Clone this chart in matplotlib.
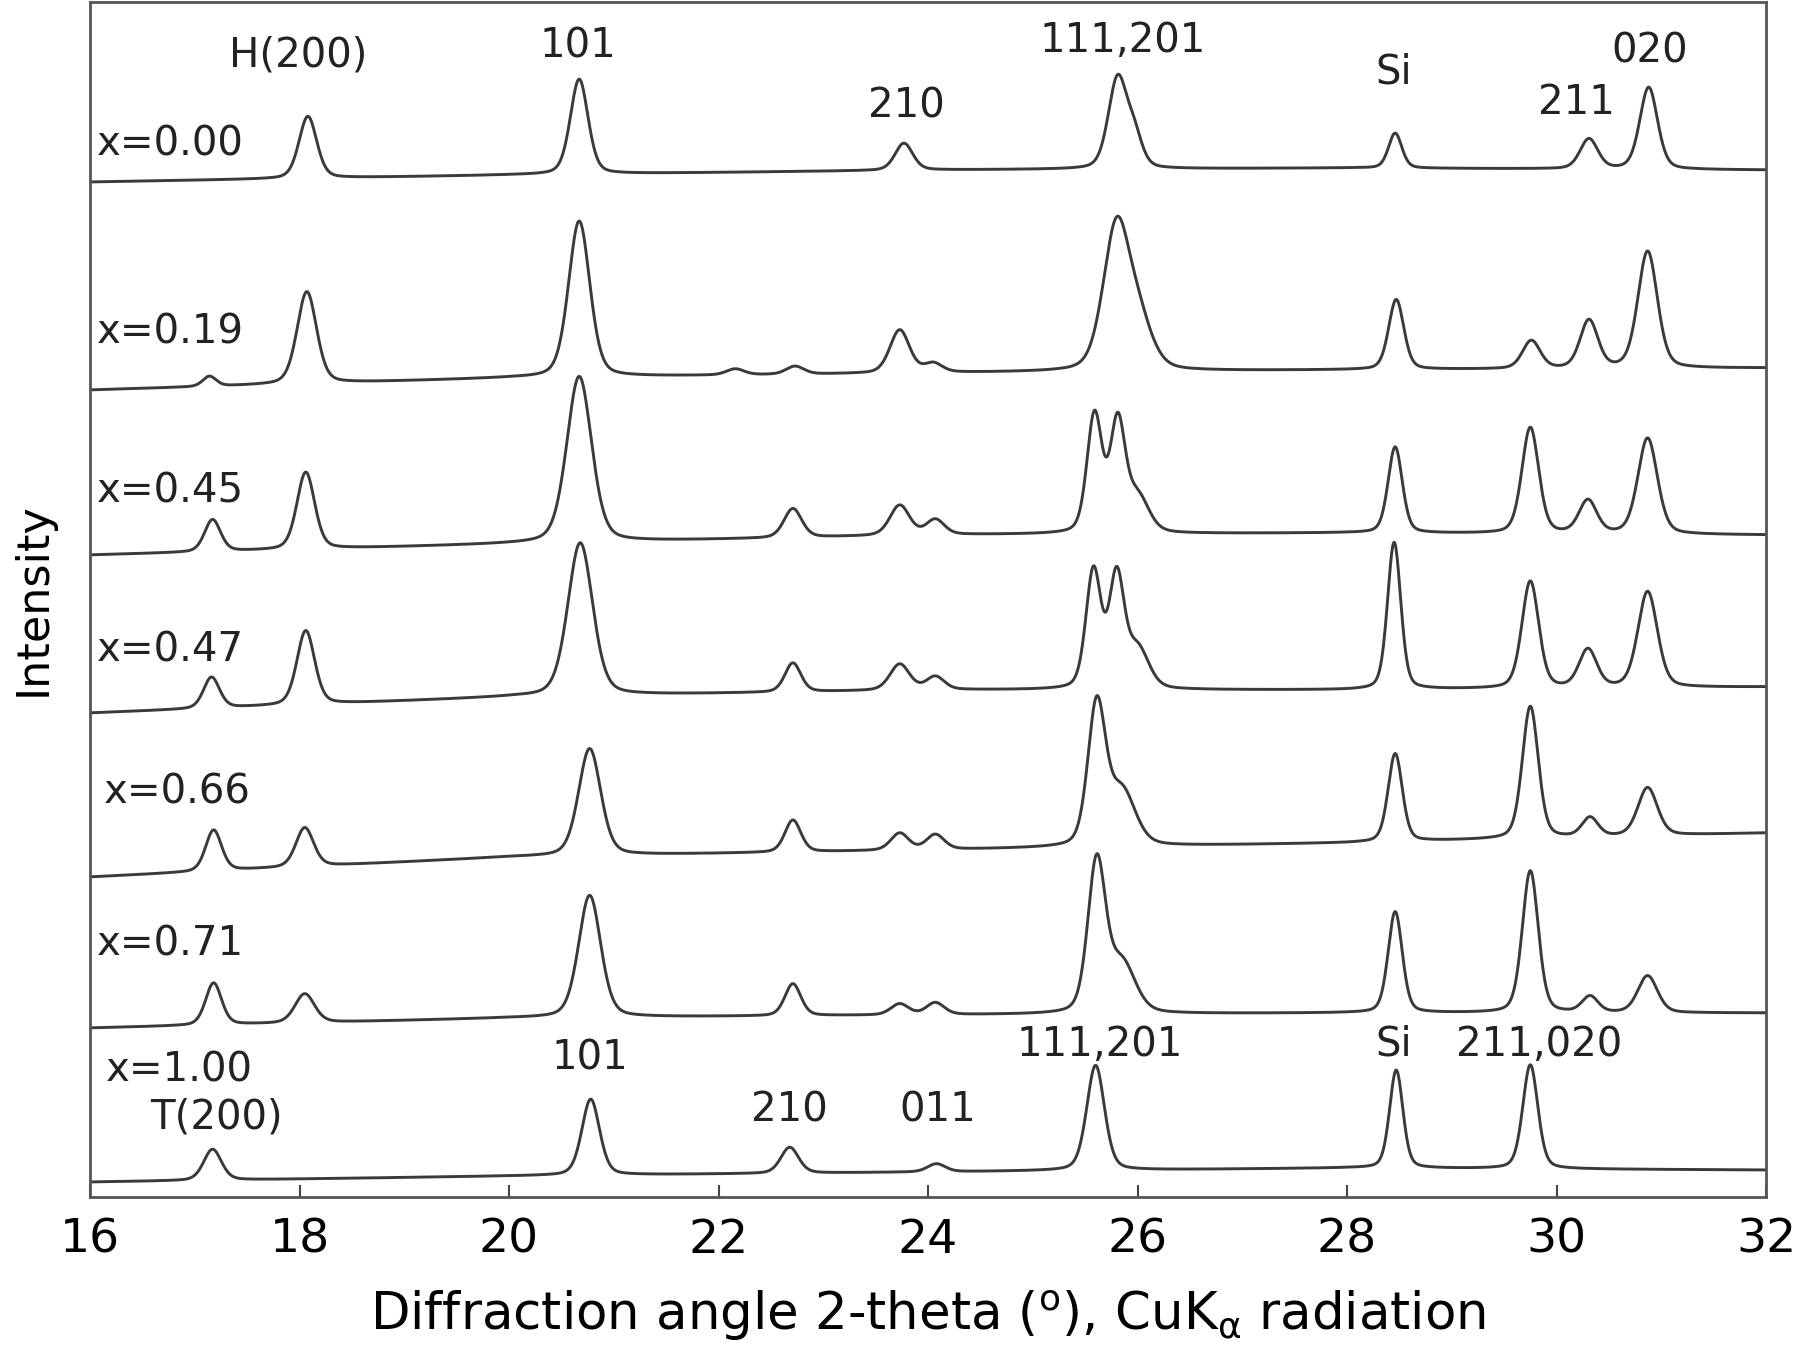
import numpy as np
import matplotlib
matplotlib.use("Agg")
import matplotlib.pyplot as plt

# XRD patterns, stacked. y units are arbitrary (offset stack).
two_theta_range = (16, 32)

sample_labels = ["x=0.00", "x=0.19", "x=0.45", "x=0.47", "x=0.66", "x=0.71", "x=1.00"]

# background read at 2-theta = 16, 20, 24, 28, 32
bg_angles = [16, 20, 24, 28, 32]
bg_000 = [1015, 1022, 1027, 1029, 1027]
bg_019 = [807, 819, 824, 827, 829]
bg_045 = [642, 653, 662, 664, 662]
bg_047 = [484, 500, 507, 507, 510]
bg_066 = [320, 340, 347, 354, 364]
bg_071 = [169, 179, 182, 184, 184]
bg_100 = [15, 21, 25, 29, 27]

# peaks: (2-theta, height above background, fwhm)
peaks_000 = [(18.08, 62, 0.20), (20.67, 95, 0.20), (23.77, 27, 0.20), (25.81, 90, 0.21),
             (25.97, 30, 0.18), (28.46, 35, 0.15), (30.31, 30, 0.20), (30.88, 82, 0.20)]
peaks_019 = [(17.14, 10, 0.15), (18.07, 92, 0.22), (20.67, 156, 0.24), (22.16, 6, 0.20),
             (22.73, 8, 0.20), (23.73, 43, 0.22), (24.05, 9, 0.20), (25.80, 144, 0.30),
             (26.02, 42, 0.30), (28.47, 70, 0.17), (29.76, 28, 0.20), (30.31, 48, 0.20),
             (30.87, 117, 0.22)]
peaks_045 = [(17.17, 32, 0.18), (18.06, 77, 0.20), (20.67, 166, 0.28), (22.71, 29, 0.20),
             (23.73, 30, 0.22), (24.07, 15, 0.20), (25.59, 118, 0.17), (25.81, 108, 0.17),
             (26.00, 36, 0.25), (28.46, 86, 0.16), (29.75, 106, 0.19), (30.30, 33, 0.20),
             (30.87, 96, 0.22)]
peaks_047 = [(17.16, 31, 0.18), (18.06, 74, 0.20), (20.68, 153, 0.28), (22.71, 29, 0.18),
             (23.73, 26, 0.22), (24.07, 13, 0.20), (25.58, 118, 0.17), (25.80, 110, 0.17),
             (26.00, 40, 0.25), (28.45, 147, 0.15), (29.75, 107, 0.19), (30.30, 38, 0.20),
             (30.87, 96, 0.22)]
peaks_066 = [(17.18, 41, 0.18), (18.05, 39, 0.20), (20.77, 107, 0.25), (22.71, 32, 0.18),
             (23.73, 17, 0.20), (24.07, 15, 0.20), (25.61, 140, 0.20), (25.85, 55, 0.30),
             (28.46, 88, 0.16), (29.75, 132, 0.18), (30.32, 19, 0.18), (30.87, 48, 0.22)]
peaks_071 = [(17.18, 42, 0.18), (18.05, 29, 0.22), (20.77, 122, 0.25), (22.71, 32, 0.18),
             (23.73, 11, 0.20), (24.07, 12, 0.20), (25.61, 150, 0.20), (25.85, 50, 0.30),
             (28.46, 101, 0.16), (29.75, 142, 0.18), (30.32, 16, 0.18), (30.87, 37, 0.22)]
peaks_100 = [(17.17, 31, 0.20), (20.78, 76, 0.20), (22.68, 26, 0.20), (24.08, 8, 0.20),
             (25.60, 105, 0.20), (28.47, 98, 0.15), (29.75, 104, 0.17)]

backgrounds = [bg_000, bg_019, bg_045, bg_047, bg_066, bg_071, bg_100]
peak_sets = [peaks_000, peaks_019, peaks_045, peaks_047, peaks_066, peaks_071, peaks_100]

# reflection labels: (text, 2-theta, y)
top_labels = [("H(200)", 17.99, 1142), ("101", 20.66, 1151), ("210", 23.79, 1091),
              ("111,201", 25.86, 1156), ("Si", 28.45, 1125), ("211", 30.19, 1094),
              ("020", 30.89, 1146)]
bottom_labels = [("T(200)", 17.21, 80), ("101", 20.77, 138), ("210", 22.68, 86),
                 ("011", 24.09, 86), ("111,201", 25.64, 152), ("Si", 28.45, 152),
                 ("211,020", 29.83, 152)]
sample_label_x = [16.07, 16.07, 16.07, 16.07, 16.13, 16.07, 16.15]
sample_label_y = [1053, 864, 706, 547, 405, 253, 127]


def pattern(tt, bg, peaks, eta=0.3):
    y = np.interp(tt, bg_angles, bg).astype(float)
    for c, h, w in peaks:
        d = (tt - c) / (w / 2)
        y += h * (eta / (1 + d ** 2) + (1 - eta) * np.exp(-np.log(2) * d ** 2))
    return y


plt.rcParams['mathtext.default'] = 'regular'
fig = plt.figure(figsize=(18, 13.58), dpi=100)
ax = fig.add_axes([90 / 1800, 1 - 1197 / 1358, 1676 / 1800, 1195 / 1358])

tt = np.linspace(two_theta_range[0], two_theta_range[1], 3201)
for bg, pk in zip(backgrounds, peak_sets):
    ax.plot(tt, pattern(tt, bg, pk), color='#3a3a3a', lw=2.1)

fs = 29
for txt, x, y in top_labels + bottom_labels:
    ax.text(x, y, txt, ha='center', va='center', fontsize=fs, color='#222222')
for txt, x, y in zip(sample_labels, sample_label_x, sample_label_y):
    ax.text(x, y, txt, ha='left', va='center', fontsize=fs, color='#222222')

ax.set_xlim(*two_theta_range)
ax.set_ylim(0, 1195)
ax.set_xticks(np.arange(16, 33, 2))
ax.set_yticks([])
ax.tick_params(axis='x', direction='in', length=9, width=1.5, labelsize=34, pad=15,
               color='#444444')
for s in ax.spines.values():
    s.set_linewidth(2.0)
    s.set_color('#555555')

ax.set_xlabel(r'Diffraction angle 2-theta ($^{o}$), CuK$_{\alpha}$ radiation',
              fontsize=37, labelpad=18)
ax.set_ylabel('Intensity', fontsize=32)
ax.yaxis.set_label_coords(-0.021, 0.5)

fig.savefig('out.png', dpi=100)
